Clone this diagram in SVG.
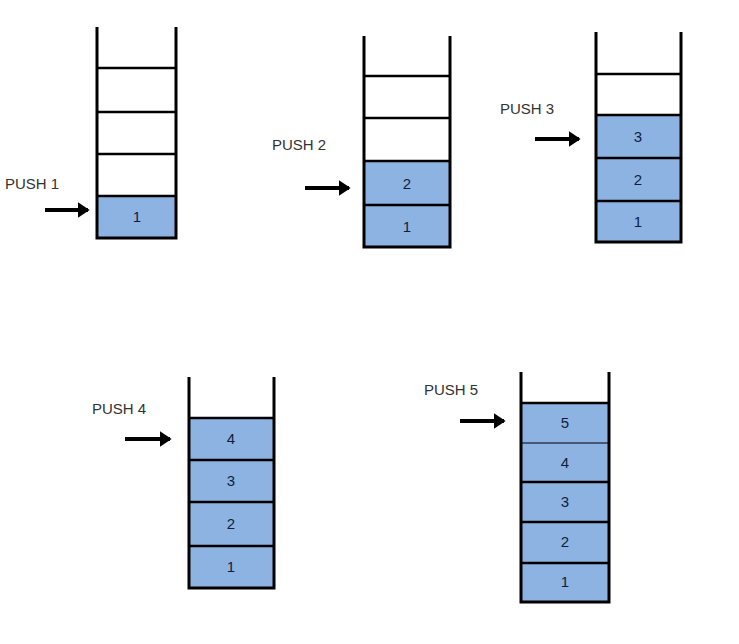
<svg xmlns="http://www.w3.org/2000/svg" width="739" height="644" viewBox="0 0 739 644">
<defs>
<style>
.cell{fill:#8db3e2;stroke:#000;stroke-width:1.5}
.wall{fill:none;stroke:#000;stroke-width:3}
.div{stroke:#000;stroke-width:2.5}
.num{font-family:"Liberation Sans",Arial,sans-serif;font-size:15px;fill:#0f1f3a;text-anchor:middle}
.lbl{font-family:"Liberation Sans",Arial,sans-serif;font-size:15px;fill:#333}
.arr{stroke:#000;stroke-width:4;marker-end:url(#ah)}
</style>
<marker id="ah" markerWidth="4" markerHeight="4" refX="2.6" refY="2" orient="auto" markerUnits="strokeWidth"><path d="M0,0 L3,2 L0,4 z" fill="#000"/></marker>
</defs>
<rect width="739" height="644" fill="#fff"/>
<g id="stack1">
<rect class="cell" x="97" y="196" width="79" height="42"/>
<text class="num" x="137" y="222">1</text>
<line class="div" x1="97" y1="68" x2="176" y2="68"/><line class="div" x1="97" y1="112" x2="176" y2="112"/><line class="div" x1="97" y1="154" x2="176" y2="154"/><line class="div" x1="97" y1="196" x2="176" y2="196"/>
<path class="wall" d="M97,27 V238 H176 V27"/>
<text class="lbl" x="5" y="189">PUSH  1</text>
</g>
<g id="stack2">
<rect class="cell" x="364" y="161" width="86" height="86"/>
<text class="num" x="407" y="189">2</text><text class="num" x="407" y="232">1</text>
<line class="div" x1="364" y1="76" x2="450" y2="76"/><line class="div" x1="364" y1="118" x2="450" y2="118"/><line class="div" x1="364" y1="161" x2="450" y2="161"/><line class="div" x1="364" y1="205" x2="450" y2="205"/>
<path class="wall" d="M364,36 V247 H450 V36"/>
<text class="lbl" x="272" y="150">PUSH  2</text>
</g>
<g id="stack3">
<rect class="cell" x="596" y="115" width="85" height="127"/>
<text class="num" x="638" y="142">3</text><text class="num" x="638" y="185">2</text><text class="num" x="638" y="227">1</text>
<line class="div" x1="596" y1="74" x2="681" y2="74"/><line class="div" x1="596" y1="115" x2="681" y2="115"/><line class="div" x1="596" y1="158" x2="681" y2="158"/><line class="div" x1="596" y1="201" x2="681" y2="201"/>
<path class="wall" d="M596,32 V242 H681 V32"/>
<text class="lbl" x="500" y="114">PUSH  3</text>
</g>
<g id="stack4">
<rect class="cell" x="189" y="418" width="85" height="170"/>
<text class="num" x="231" y="444">4</text><text class="num" x="231" y="486">3</text><text class="num" x="231" y="529">2</text><text class="num" x="231" y="572">1</text>
<line class="div" x1="189" y1="418" x2="274" y2="418"/><line class="div" x1="189" y1="460" x2="274" y2="460"/><line class="div" x1="189" y1="502" x2="274" y2="502"/><line class="div" x1="189" y1="546" x2="274" y2="546"/>
<path class="wall" d="M189,377 V588 H274 V377"/>
<text class="lbl" x="92" y="414">PUSH  4</text>
</g>
<g id="stack5">
<rect class="cell" x="521" y="403" width="88" height="199"/>
<text class="num" x="565" y="428">5</text><text class="num" x="565" y="468">4</text><text class="num" x="565" y="507">3</text><text class="num" x="565" y="547">2</text><text class="num" x="565" y="587">1</text>
<line class="div" x1="521" y1="403" x2="609" y2="403"/><line class="div" x1="521" y1="443" x2="609" y2="443" style="stroke-width:1"/><line class="div" x1="521" y1="482" x2="609" y2="482"/><line class="div" x1="521" y1="522" x2="609" y2="522"/><line class="div" x1="521" y1="563" x2="609" y2="563"/>
<path class="wall" d="M521,372 V602 H609 V372"/>
<text class="lbl" x="424" y="395">PUSH  5</text>
</g>
<g id="connectors">
<line class="arr" x1="45" y1="210" x2="88" y2="210"/>
<line class="arr" x1="305" y1="188" x2="349" y2="188"/>
<line class="arr" x1="535" y1="139" x2="579" y2="139"/>
<line class="arr" x1="125" y1="439" x2="170" y2="439"/>
<line class="arr" x1="460" y1="421" x2="504" y2="421"/>
</g>
</svg>
